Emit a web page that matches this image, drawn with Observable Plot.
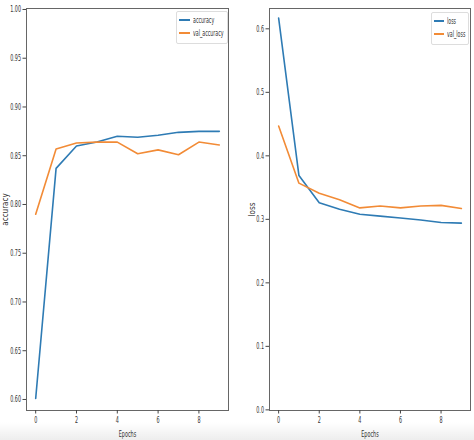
<!DOCTYPE html>
<html>
<head>
<meta charset="utf-8">
<script src="https://cdn.jsdelivr.net/npm/d3@7"></script>
<script src="https://cdn.jsdelivr.net/npm/@observablehq/plot@0.6"></script>
<style>
  html, body { margin: 0; padding: 0; background: #fff; }
  #wrap { position: relative; width: 474px; height: 440px; overflow: hidden; display: flex; }
  .legend { position: absolute; background: #fff; border: 1px solid #ddd; border-radius: 2px;
            font: 9px "DejaVu Sans Condensed", sans-serif; color: #333; box-sizing: border-box; }
  .legend .row { position: absolute; left: 0; display: flex; align-items: center; white-space: nowrap; }
  .legend .sw { display: inline-block; height: 1.6px; margin-right: 3px; }
  .legend .tx { display: inline-block; transform: scaleX(0.58); transform-origin: 0 50%; }
  #shade { position: absolute; left: 0; right: 0; bottom: 0; height: 18px; pointer-events: none;
           background: linear-gradient(to bottom, rgba(0,0,0,0), rgba(0,0,0,0.07)); }
  svg text { font-family: "DejaVu Sans Condensed", sans-serif; }
  svg [aria-label="y-axis label"] text { font-size: 8px; }
</style>
</head>
<body>
<div id="wrap"></div>
<script>
// ---- data ----
const epochs = [0, 1, 2, 3, 4, 5, 6, 7, 8, 9];
const accuracy    = [0.601, 0.837, 0.860, 0.864, 0.870, 0.869, 0.871, 0.874, 0.875, 0.875];
const valAccuracy = [0.790, 0.857, 0.863, 0.864, 0.864, 0.852, 0.856, 0.851, 0.864, 0.861];
const loss        = [0.617, 0.369, 0.326, 0.316, 0.308, 0.305, 0.302, 0.299, 0.295, 0.294];
const valLoss     = [0.447, 0.357, 0.341, 0.331, 0.318, 0.321, 0.318, 0.321, 0.322, 0.317];
const xTicks = [0, 2, 4, 6, 8];
const accTicks = [0.60, 0.65, 0.70, 0.75, 0.80, 0.85, 0.90, 0.95, 1.00];
const lossTicks = [0.0, 0.1, 0.2, 0.3, 0.4, 0.5, 0.6];
const accSeries = ["accuracy", "val_accuracy"];
const lossSeries = ["loss", "val_loss"];

const BLUE = "#2e7bb4", ORANGE = "#f28b36";
const toRows = (names, arrs) => names.flatMap((n, i) => epochs.map((e, j) => ({series: n, epoch: e, value: arrs[i][j]})));

function panel({rows, names, width, marginLeft, yDomain, yTicks, fmt, label, labelOffset}) {
  return Plot.plot({
    width, height: 440,
    marginLeft, marginRight: 4, marginTop: 8, marginBottom: 30,
    style: {fontSize: "9px", color: "#333", background: "transparent"},
    x: {domain: [-0.45, 9.45]},
    y: {domain: yDomain},
    marks: [
      Plot.frame({stroke: "#666", strokeWidth: 1}),
      Plot.axisX({ticks: xTicks, tickSize: 3.5, tickPadding: 3, label: "Epochs", labelAnchor: "center", labelArrow: "none", labelOffset: 26, stroke: "#444"}),
      Plot.axisY({ticks: yTicks, tickSize: 3.5, tickPadding: 2, tickFormat: d3.format(fmt), label, labelAnchor: "center", labelArrow: "none", labelOffset, stroke: "#444"}),
      Plot.line(rows, {x: "epoch", y: "value", z: "series", stroke: d => d.series === names[0] ? BLUE : ORANGE, strokeWidth: 1.6})
    ]
  });
}

const wrap = document.getElementById("wrap");
const left = panel({rows: toRows(accSeries, [accuracy, valAccuracy]), names: accSeries, width: 232, marginLeft: 26,
  yDomain: [0.5887, 1.001], yTicks: accTicks, fmt: ".2f", label: "accuracy", labelOffset: 24});
const right = panel({rows: toRows(lossSeries, [loss, valLoss]), names: lossSeries, width: 242, marginLeft: 37,
  yDomain: [-0.001, 0.632], yTicks: lossTicks, fmt: ".1f", label: "loss", labelOffset: 20});
wrap.appendChild(left);
wrap.appendChild(right);

// the reference is squeezed horizontally: narrow the horizontal texts
for (const svg of [left, right]) {
  svg.querySelectorAll('[aria-label="x-axis tick label"] text, [aria-label="y-axis tick label"] text, [aria-label="x-axis label"] text')
    .forEach(t => {
      const len = t.getComputedTextLength();
      t.setAttribute("textLength", (len * 0.6).toFixed(2));
      t.setAttribute("lengthAdjust", "spacingAndGlyphs");
    });
}

function legend(names, box) {
  const d = document.createElement("div");
  d.className = "legend";
  Object.assign(d.style, {left: box.x + "px", top: box.y + "px", width: box.w + "px", height: box.h + "px"});
  names.forEach((n, i) => {
    const r = document.createElement("div");
    r.className = "row";
    r.style.top = (3 + i * 13) + "px";
    r.style.left = "2px";
    const s = document.createElement("span");
    s.className = "sw";
    s.style.width = box.sw + "px";
    s.style.background = i === 0 ? BLUE : ORANGE;
    const tx = document.createElement("span");
    tx.className = "tx";
    tx.textContent = n;
    r.appendChild(s);
    r.appendChild(tx);
    d.appendChild(r);
  });
  wrap.appendChild(d);
}
legend(accSeries, {x: 176, y: 11, w: 52, h: 33, sw: 11});
legend(lossSeries, {x: 431, y: 12, w: 38, h: 33, sw: 10});

const shade = document.createElement("div");
shade.id = "shade";
wrap.appendChild(shade);
</script>
</body>
</html>
